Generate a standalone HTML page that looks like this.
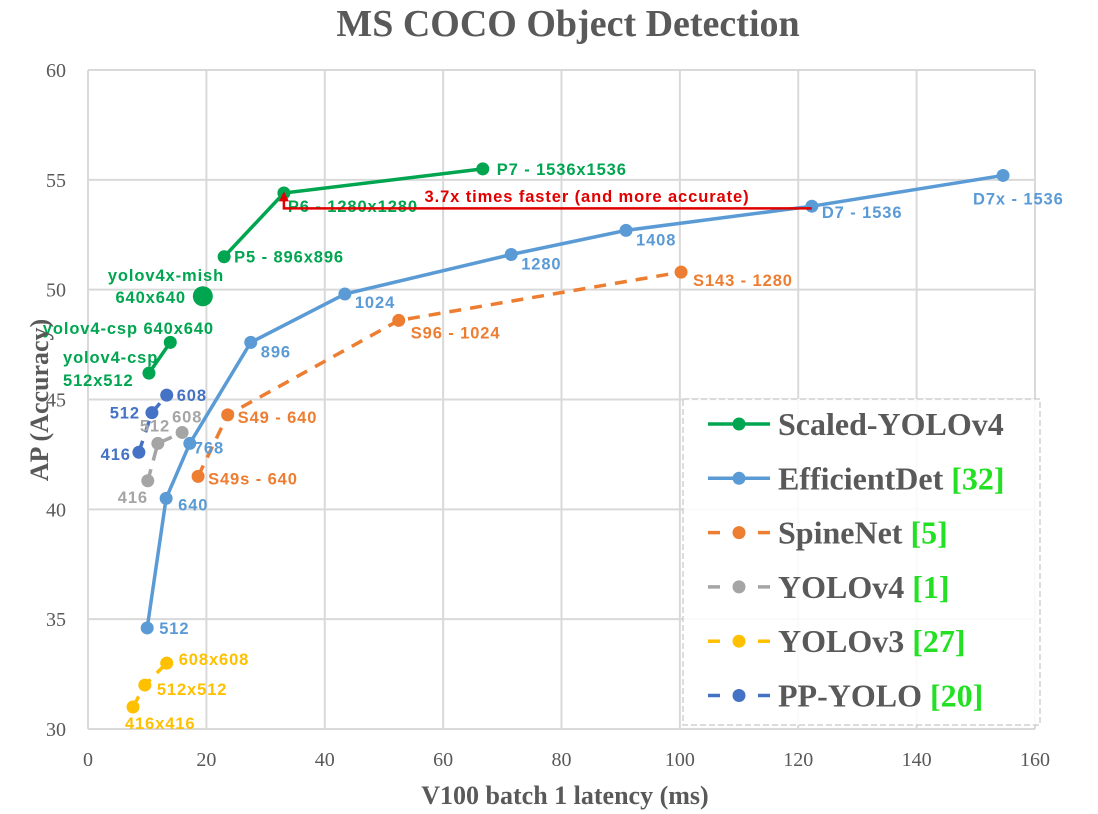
<!DOCTYPE html>
<html><head><meta charset="utf-8"><style>
body{margin:0;background:#fff;}
svg{display:block;}
.tk{font-family:"Liberation Serif",serif;font-size:20px;fill:#595959;}
.lb{font-family:"Liberation Sans",sans-serif;font-size:16.5px;font-weight:bold;letter-spacing:0.9px;}
</style></head><body>
<svg id="chart" width="1098" height="814">
<text x="568" y="36" text-anchor="middle" font-family="Liberation Serif,serif" font-weight="bold" font-size="38" fill="#595959">MS COCO Object Detection</text>
<g id="grid"></g>
<g id="series"></g>
<g id="labels"></g>
<text x="565" y="804" text-anchor="middle" font-family="Liberation Serif,serif" font-weight="bold" font-size="26" fill="#595959">V100 batch 1 latency (ms)</text>
<text transform="translate(48,400) rotate(-90)" text-anchor="middle" font-family="Liberation Serif,serif" font-weight="bold" font-size="26" fill="#595959">AP  (Accuracy)</text>
</svg>
<script>
const xTicks=[0,20,40,60,80,100,120,140,160];
const yTicks=[30,35,40,45,50,55,60];
const scaledX=[23.0,33.1,66.7];
const scaledY=[51.5,54.4,55.5];
const scaledLbl=["P5 - 896x896","P6 - 1280x1280","P7 - 1536x1536"];
const cspX=[10.3,13.9];
const cspY=[46.2,47.6];
const mishX=[19.4];
const mishY=[49.7];
const effX=[10.0,13.2,17.2,27.5,43.4,71.5,90.9,122.3,154.6];
const effY=[34.6,40.5,43.0,47.6,49.8,51.6,52.7,53.8,55.2];
const effLbl=["512","640","768","896","1024","1280","1408","D7 - 1536","D7x - 1536"];
const spineX=[18.6,23.6,52.5,100.2];
const spineY=[41.5,44.3,48.6,50.8];
const spineLbl=["S49s - 640","S49 - 640","S96 - 1024","S143 - 1280"];
const v4X=[10.1,11.8,15.9];
const v4Y=[41.3,43.0,43.5];
const v4Lbl=["416","512","608"];
const v3X=[7.6,9.6,13.3];
const v3Y=[31.0,32.0,33.0];
const v3Lbl=["416x416","512x512","608x608"];
const ppX=[8.6,10.8,13.3];
const ppY=[42.6,44.4,45.2];
const ppLbl=["416","512","608"];
const arrowFrom=[122.3,53.7];
const arrowTo=[33.1,53.7];

const NS="http://www.w3.org/2000/svg";
const X=v=>88+v*(1035-88)/160;
const Y=v=>729-(v-30)*(729-70)/30;
function mk(p,t,a){const e=document.createElementNS(NS,t);for(const k in a)e.setAttribute(k,a[k]);p.appendChild(e);return e;}
const grid=document.getElementById('grid'),ser=document.getElementById('series'),lab=document.getElementById('labels');
xTicks.forEach(v=>{
 const l=mk(grid,'line',{x1:X(v),x2:X(v),y1:70,y2:729,stroke:'#d9d9d9','stroke-width':2});
 
 
 const t=mk(grid,'text',{x:X(v),y:766,'text-anchor':'middle',class:'tk'});t.textContent=v;
 
 
});
yTicks.forEach(v=>{
 const l=mk(grid,'line',{x1:88,x2:1035,y1:Y(v),y2:Y(v),stroke:'#d9d9d9','stroke-width':2});
 
 
 const t=mk(grid,'text',{x:66,y:Y(v)+7,'text-anchor':'end',class:'tk'});t.textContent=v;
 
 
});
function series(name,xs,ys,col,dash,r){
 const g=mk(ser,'g',{});
 
 
 if(xs.length>1){const p=mk(g,'polyline',{points:xs.map((x,i)=>X(x)+','+Y(ys[i])).join(' '),fill:'none',stroke:col,'stroke-width':3.5,'stroke-dasharray':dash||'none'});
  
  }
 xs.forEach((x,i)=>{const c=mk(g,'circle',{cx:X(x),cy:Y(ys[i]),r:r||6.5,fill:col});
  
  });
}
function labels(name,xs,ys,txt,col,dx,dy,anchor){
 xs.forEach((x,i)=>{const t=mk(lab,'text',{x:X(x)+(Array.isArray(dx)?dx[i]:dx),y:Y(ys[i])+(Array.isArray(dy)?dy[i]:dy),fill:col,class:'lb','text-anchor':Array.isArray(anchor)?anchor[i]:(anchor||'start')});t.textContent=txt[i];
  
  });
}
const G='#00a550',B='#5b9bd5',O='#ed7d31',GR='#a5a5a5',YE='#ffc000',PB='#4472c4';
series('efficientdet',effX,effY,B);
series('spinenet',spineX,spineY,O,'12 9');
series('yolov4',v4X,v4Y,GR,'12 9');
series('yolov3',v3X,v3Y,YE,'12 9');
series('pp-yolo',ppX,ppY,PB,'12 9');
series('scaled-yolov4',scaledX,scaledY,G);
series('yolov4-csp',cspX,cspY,G);
series('yolov4x-mish',mishX,mishY,G,null,10);
labels('efficientdet',effX,effY,effLbl,B,[12,12,4,10,10,10,10,10,-30],[6,12,10,15,14,15,15,12,29]);
labels('spinenet',spineX,spineY,spineLbl,O,[10,10,12,12],[8,8,18,14]);
labels('yolov4',v4X,v4Y,v4Lbl,GR,[-30,-18,-10],[22,-12,-10],['start','start','start']);
labels('yolov3',v3X,v3Y,v3Lbl,YE,[-8,12,12],[22,10,2]);
labels('pp-yolo',ppX,ppY,ppLbl,PB,[-8,-12,10],[8,6,6],['end','end','start']);
labels('scaled-yolov4',scaledX,scaledY,scaledLbl,G,[10,4,14],[6,19,6]);
[["yolov4x-mish",166,281,'middle'],["640x640",186,303,'end'],["yolov4-csp 640x640",214,334,'end'],["yolov4-csp",63,363,'start'],["512x512",63,386,'start']].forEach(a=>{
 const t=mk(lab,'text',{x:a[1],y:a[2],fill:G,class:'lb','text-anchor':a[3]});
 t.textContent=a[0];
 
 
});
const ar=mk(lab,'polyline',{points:`${X(arrowFrom[0])},${Y(arrowFrom[1])} ${X(arrowTo[0])},${Y(arrowTo[1])} ${X(arrowTo[0])},${Y(arrowTo[1])-10}`,fill:'none',stroke:'#e00000','stroke-width':2.5});


const ah=mk(lab,'polygon',{points:`${X(arrowTo[0])},${Y(arrowTo[1])-17} ${X(arrowTo[0])-5},${Y(arrowTo[1])-7} ${X(arrowTo[0])+5},${Y(arrowTo[1])-7}`,fill:'#e00000'});


const at=mk(lab,'text',{x:587,y:202,'text-anchor':'middle',fill:'#e00000',class:'lb'});at.textContent='3.7x times faster (and more accurate)';


const lg=mk(document.getElementById('chart'),'g',{});


mk(lg,'rect',{x:683,y:399,width:357,height:326,fill:'rgba(255,255,255,0.85)',stroke:'#d0d0d0','stroke-width':1.5,'stroke-dasharray':'6 3'});
const entries=[['Scaled-YOLOv4','',G,false],['EfficientDet','[32]',B,false],['SpineNet','[5]',O,true],['YOLOv4','[1]',GR,true],['YOLOv3','[27]',YE,true],['PP-YOLO','[20]',PB,true]];
entries.forEach((e,i)=>{
 const y=424+i*54.3;
 const g=mk(lg,'g',{});
 
 
 if(e[3]){mk(g,'line',{x1:708,x2:720,y1:y,y2:y,stroke:e[2],'stroke-width':3.5});mk(g,'line',{x1:758,x2:770,y1:y,y2:y,stroke:e[2],'stroke-width':3.5});}
 else mk(g,'line',{x1:708,x2:770,y1:y,y2:y,stroke:e[2],'stroke-width':3.5});
 mk(g,'circle',{cx:739,cy:y,r:6.5,fill:e[2]});
 const t=mk(g,'text',{x:778,y:y+11,'font-family':'Liberation Serif,serif','font-weight':'bold','font-size':32,fill:'#595959'});
 t.textContent=e[0]+' ';
 const s=mk(t,'tspan',{fill:'#22e022'});s.textContent=e[1];
});
</script>
</body></html>
